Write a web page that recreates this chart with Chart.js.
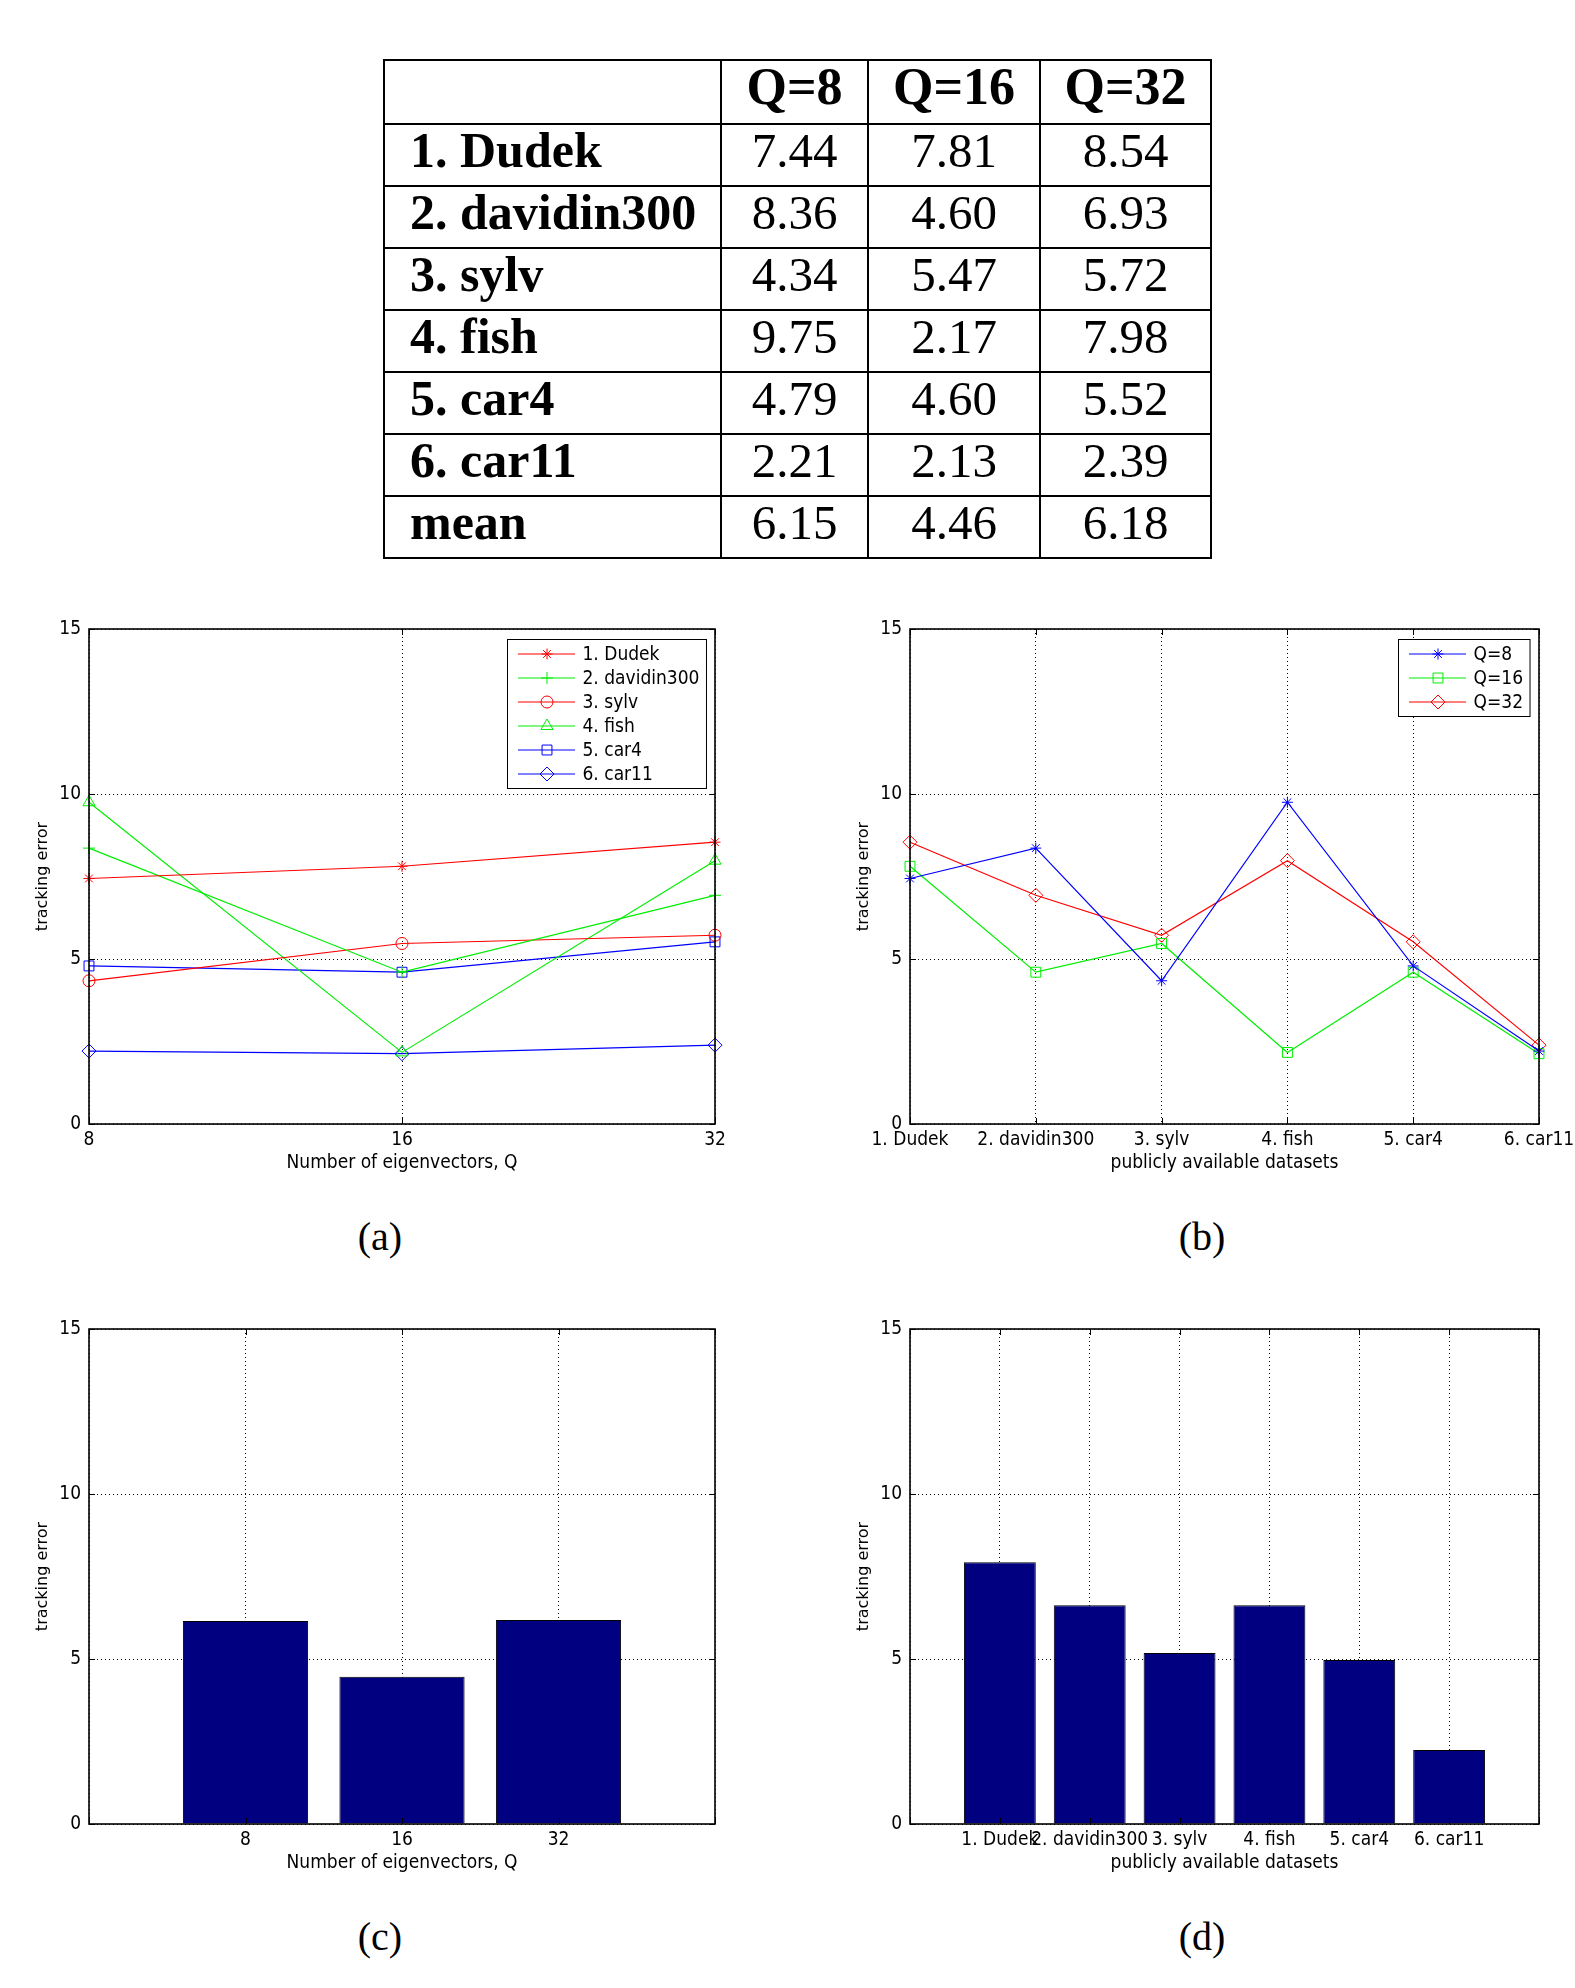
<!DOCTYPE html>
<html>
<head>
<meta charset="utf-8">
<script src="https://cdn.jsdelivr.net/npm/chart.js@4.4.0/dist/chart.umd.min.js"></script>
<style>
  body { margin: 0; background: #fff; width: 1575px; height: 1988px; position: relative; overflow: hidden; }
  #results { position: absolute; left: 383px; top: 59px; border-collapse: collapse; table-layout: fixed;
             font-family: 'Liberation Serif', 'Times New Roman', serif; font-size: 49px; color: #000; }
  #results td { border: 2px solid #000; height: 50px; padding: 0 0 10px 0; text-align: center; line-height: 1; }
  #results tr.head td { font-weight: bold; font-size: 52px; }
  #results td.name { text-align: left; padding-left: 25px; font-weight: bold; font-size: 50px; }
  .panel { position: absolute; }
  .caption { position: absolute; font-family: 'Liberation Serif', 'Times New Roman', serif; font-size: 40px;
             transform: translate(-50%, -50%); white-space: nowrap; }
</style>
</head>
<body>
<table id="results">
  <colgroup><col style="width:337px"><col style="width:147px"><col style="width:172px"><col style="width:171px"></colgroup>
  <tbody></tbody>
</table>

<canvas id="chartA" class="panel" width="787" height="610" style="left:0;top:600px"></canvas>
<canvas id="chartB" class="panel" width="788" height="610" style="left:787px;top:600px"></canvas>
<canvas id="chartC" class="panel" width="787" height="610" style="left:0;top:1300px"></canvas>
<canvas id="chartD" class="panel" width="788" height="610" style="left:787px;top:1300px"></canvas>

<div class="caption" style="left:380px;top:1236px">(a)</div>
<div class="caption" style="left:1202px;top:1236px">(b)</div>
<div class="caption" style="left:380px;top:1936px">(c)</div>
<div class="caption" style="left:1202px;top:1936px">(d)</div>

<script>
// values from the table (rows = datasets, columns = Q)
const qLabels = ['8', '16', '32']
const qNames = ['Q=8', 'Q=16', 'Q=32']
const datasetNames = ['1. Dudek', '2. davidin300', '3. sylv', '4. fish', '5. car4', '6. car11']
const dudek = [7.44, 7.81, 8.54]
const davidin300 = [8.36, 4.60, 6.93]
const sylv = [4.34, 5.47, 5.72]
const fish = [9.75, 2.17, 7.98]
const car4 = [4.79, 4.60, 5.52]
const car11 = [2.21, 2.13, 2.39]
const meanByQ = [6.15, 4.46, 6.18]
const meanByDataset = [7.93, 6.63, 5.18, 6.63, 4.97, 2.24]
const yTicks = [0, 5, 10, 15]

const rows = [dudek, davidin300, sylv, fish, car4, car11]

// table
const tbody = document.querySelector('#results tbody')
function addRow(cells, cls) {
    const tr = document.createElement('tr')
    if (cls) tr.className = cls
    cells.forEach((c, i) => {
        const td = document.createElement('td')
        td.textContent = c
        if (i === 0 && cls !== 'head') td.className = 'name'
        tr.appendChild(td)
    })
    tbody.appendChild(tr)
}
addRow([''].concat(qNames), 'head')
rows.forEach((r, i) => addRow([datasetNames[i]].concat(r.map(v => v.toFixed(2)))))
addRow(['mean'].concat(meanByQ.map(v => v.toFixed(2))))

// chart styling
Chart.defaults.color = '#000'
const tickFamily = "'DejaVu Sans Condensed', 'Liberation Sans Narrow', 'DejaVu Sans', sans-serif"
const tickFont = { family: tickFamily, size: 19 }
const RED = '#ff0000', GREEN = '#00ee00', BLUE = '#0000ff', NAVY = '#000080'

const rowStyles = [
    { color: RED, pointStyle: 'star', radius: 5.5 },
    { color: GREEN, pointStyle: 'cross', radius: 6 },
    { color: RED, pointStyle: 'circle', radius: 6 },
    { color: GREEN, pointStyle: 'triangle', radius: 7 },
    { color: BLUE, pointStyle: 'rect', radius: 7 },
    { color: BLUE, pointStyle: 'rectRot', radius: 7 }
]
const qStyles = [
    { color: BLUE, pointStyle: 'star', radius: 5.5 },
    { color: GREEN, pointStyle: 'rect', radius: 7 },
    { color: RED, pointStyle: 'rectRot', radius: 7 }
]

function lineSet(label, data, st) {
    return {
        label: label,
        data: data,
        borderColor: st.color,
        borderWidth: 1.2,
        pointStyle: st.pointStyle,
        pointRadius: st.radius,
        pointBorderColor: st.color,
        pointBorderWidth: 1,
        pointBackgroundColor: 'rgba(0,0,0,0)',
        tension: 0,
        clip: false
    }
}

function yAxis() {
    return {
        min: 0,
        max: 15,
        afterBuildTicks: s => { s.ticks = yTicks.map(v => ({ value: v })) },
        grid: { color: '#000', lineWidth: 1, drawTicks: false },
        border: { display: false, dash: [1, 3] },
        ticks: { font: tickFont, padding: 8 },
        title: { display: true, text: 'tracking error', font: { family: "'DejaVu Sans', sans-serif", size: 16 }, padding: { top: 33, bottom: 0 } },
        afterFit: s => { s.width = 89; s.paddingTop = 0; s.paddingBottom = 0 }
    }
}

function xTitle(text) {
    return { display: true, text: text, font: tickFont, padding: { top: 0, bottom: 26 } }
}

function xFit(s) { s.height = 76; s.paddingLeft = 0; s.paddingRight = 0 }

function categoryX(title) {
    return {
        type: 'category',
        offset: false,
        grid: { color: '#000', lineWidth: 1, drawTicks: false, offset: false },
        border: { display: false, dash: [1, 3] },
        ticks: { font: tickFont, padding: 5, autoSkip: false, maxRotation: 0 },
        title: xTitle(title),
        afterFit: xFit
    }
}

function barX(labels, title) {
    return {
        type: 'linear',
        min: 0,
        max: labels.length + 1,
        offset: false,
        afterBuildTicks: s => {
            s.ticks = [0].concat(labels.map((l, i) => i + 1), [labels.length + 1]).map(v => ({ value: v }))
        },
        grid: { color: '#000', lineWidth: 1, drawTicks: false, offset: false },
        border: { display: false, dash: [1, 3] },
        ticks: {
            font: tickFont, padding: 5, autoSkip: false, maxRotation: 0,
            callback: v => labels[v - 1] || ''
        },
        title: xTitle(title),
        afterFit: xFit
    }
}

// full box + inward tick marks, like the original figure
const boxPlugin = {
    id: 'box',
    afterDatasetsDraw(chart) {
        const { ctx, chartArea: a, scales } = chart
        ctx.save()
        ctx.setLineDash([])
        ctx.strokeStyle = '#000'
        ctx.lineWidth = 1
        ctx.beginPath()
        scales.x.ticks.forEach((t, i) => {
            const px = Math.round(scales.x.getPixelForTick(i)) + 0.5
            ctx.moveTo(px, a.bottom); ctx.lineTo(px, a.bottom - 6)
            ctx.moveTo(px, a.top); ctx.lineTo(px, a.top + 6)
        })
        scales.y.ticks.forEach((t, i) => {
            const py = Math.round(scales.y.getPixelForTick(i)) + 0.5
            ctx.moveTo(a.left, py); ctx.lineTo(a.left + 6, py)
            ctx.moveTo(a.right, py); ctx.lineTo(a.right - 6, py)
        })
        ctx.stroke()
        ctx.lineWidth = 1.6
        ctx.strokeRect(a.left, a.top, a.right - a.left, a.bottom - a.top)
        ctx.restore()
    }
}

// boxed legend in the upper right corner of the plot
const legendPlugin = {
    id: 'boxLegend',
    afterDraw(chart, args, opts) {
        if (!opts.show) return
        const { ctx, chartArea: a } = chart
        const sets = chart.data.datasets
        ctx.save()
        ctx.font = '19px ' + tickFamily
        const textW = Math.max(...sets.map(d => ctx.measureText(d.label).width))
        const w = 75 + textW + 7
        const h = 24 * (sets.length - 1) + 29
        const x0 = Math.round(a.right - 9.5 - w) + 0.5
        const y0 = Math.round(a.top + 9.5) + 0.5
        ctx.fillStyle = '#fff'
        ctx.fillRect(x0, y0, w, h)
        ctx.strokeStyle = '#000'
        ctx.lineWidth = 1
        ctx.strokeRect(x0, y0, w, h)
        sets.forEach((d, i) => {
            const y = y0 + 14.5 + 24 * i
            ctx.strokeStyle = d.borderColor
            ctx.lineWidth = d.borderWidth
            ctx.beginPath()
            ctx.moveTo(x0 + 10.5, y)
            ctx.lineTo(x0 + 67.5, y)
            ctx.stroke()
            ctx.fillStyle = 'rgba(0,0,0,0)'
            ctx.lineWidth = 1
            Chart.helpers.drawPoint(ctx, { pointStyle: d.pointStyle, radius: d.pointRadius, borderWidth: 1, rotation: 0 }, x0 + 39.5, y)
            ctx.fillStyle = '#000'
            ctx.textBaseline = 'middle'
            ctx.textAlign = 'left'
            ctx.fillText(d.label, x0 + 75, y + 1)
        })
        ctx.restore()
    }
}

function baseOptions(padLeft, padRight, xScale, showLegend) {
    return {
        responsive: false,
        animation: false,
        devicePixelRatio: 1,
        events: [],
        layout: { padding: { left: padLeft, right: padRight, top: 29, bottom: 10 } },
        scales: { x: xScale, y: yAxis() },
        plugins: {
            legend: { display: false },
            tooltip: { enabled: false },
            boxLegend: { show: showLegend }
        }
    }
}

// (a) tracking error vs Q, one line per dataset
new Chart(document.getElementById('chartA'), {
    type: 'line',
    data: {
        labels: qLabels,
        datasets: rows.map((r, i) => lineSet(datasetNames[i], r, rowStyles[i]))
    },
    options: baseOptions(0, 72, categoryX('Number of eigenvectors, Q'), true),
    plugins: [boxPlugin, legendPlugin]
})

// (b) tracking error per dataset, one line per Q
new Chart(document.getElementById('chartB'), {
    type: 'line',
    data: {
        labels: datasetNames,
        datasets: qNames.map((q, j) => lineSet(q, rows.map(r => r[j]), qStyles[j]))
    },
    options: baseOptions(34, 36, categoryX('publicly available datasets'), true),
    plugins: [boxPlugin, legendPlugin]
})

function barSet(values) {
    return {
        data: values.map((v, i) => ({ x: i + 1, y: v })),
        backgroundColor: NAVY,
        borderColor: '#000',
        borderWidth: 1,
        barPercentage: 0.8,
        categoryPercentage: 1
    }
}

// (c) mean error per Q
new Chart(document.getElementById('chartC'), {
    type: 'bar',
    data: { datasets: [barSet(meanByQ)] },
    options: baseOptions(0, 72, barX(qLabels, 'Number of eigenvectors, Q'), false),
    plugins: [boxPlugin, legendPlugin]
})

// (d) mean error per dataset
new Chart(document.getElementById('chartD'), {
    type: 'bar',
    data: { datasets: [barSet(meanByDataset)] },
    options: baseOptions(34, 36, barX(datasetNames, 'publicly available datasets'), false),
    plugins: [boxPlugin, legendPlugin]
})
</script>
</body>
</html>
